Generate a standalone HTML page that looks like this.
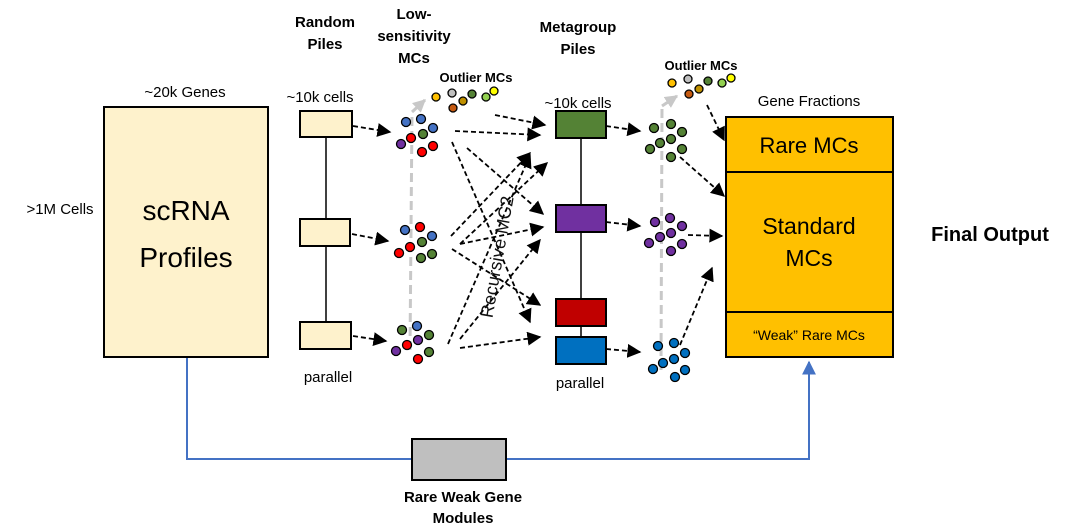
<!DOCTYPE html>
<html><head><meta charset="utf-8"><style>
html,body{margin:0;padding:0;background:#fff}
svg{display:block}
text{font-family:"Liberation Sans",Arial,sans-serif}
</style></head><body>
<svg width="1080" height="531" viewBox="0 0 1080 531" xmlns="http://www.w3.org/2000/svg">
<defs>
<marker id="ahk" viewBox="0 0 10 10" refX="9" refY="5" markerWidth="14" markerHeight="14" orient="auto" markerUnits="userSpaceOnUse"><path d="M0,0 L10,5 L0,10 z" fill="#000"/></marker>
<marker id="ahg" viewBox="0 0 10 10" refX="9" refY="5" markerWidth="13" markerHeight="13" orient="auto" markerUnits="userSpaceOnUse"><path d="M0,0 L10,5 L0,10 z" fill="#c8c8c8"/></marker>
<marker id="ahb" viewBox="0 0 10 10" refX="9" refY="5" markerWidth="14" markerHeight="14" orient="auto" markerUnits="userSpaceOnUse"><path d="M0,0 L10,5 L0,10 z" fill="#4472c4"/></marker>
</defs>

<polyline points="187,357 187,459 809,459 809,362" fill="none" stroke="#4472c4" stroke-width="2" marker-end="url(#ahb)"/>
<rect x="412" y="439" width="94" height="41" fill="#bfbfbf" stroke="#000" stroke-width="2"/>
<text x="463" y="502" font-size="15" font-weight="bold" text-anchor="middle">Rare Weak Gene</text>
<text x="463" y="523" font-size="15" font-weight="bold" text-anchor="middle">Modules</text>

<rect x="104" y="107" width="164" height="250" fill="#fef2cc" stroke="#000" stroke-width="2"/>
<text x="186" y="220" font-size="28" text-anchor="middle">scRNA</text>
<text x="186" y="267" font-size="28" text-anchor="middle">Profiles</text>
<text x="185" y="97" font-size="15" text-anchor="middle">~20k Genes</text>
<text x="60" y="214" font-size="15" text-anchor="middle">&gt;1M Cells</text>

<text x="325" y="27" font-size="15" font-weight="bold" text-anchor="middle">Random</text>
<text x="325" y="49" font-size="15" font-weight="bold" text-anchor="middle">Piles</text>
<text x="414" y="19" font-size="15" font-weight="bold" text-anchor="middle">Low-</text>
<text x="414" y="41" font-size="15" font-weight="bold" text-anchor="middle">sensitivity</text>
<text x="414" y="63" font-size="15" font-weight="bold" text-anchor="middle">MCs</text>
<line x1="326" y1="137" x2="326" y2="322" stroke="#000" stroke-width="1.5"/>
<rect x="300" y="111" width="52" height="26" fill="#fef2cc" stroke="#000" stroke-width="2"/>
<rect x="300" y="219" width="50" height="27" fill="#fef2cc" stroke="#000" stroke-width="2"/>
<rect x="300" y="322" width="51" height="27" fill="#fef2cc" stroke="#000" stroke-width="2"/>
<text x="320" y="102" font-size="15" text-anchor="middle">~10k cells</text>
<text x="328" y="382" font-size="15" text-anchor="middle">parallel</text>

<text x="578" y="32" font-size="15" font-weight="bold" text-anchor="middle">Metagroup</text>
<text x="578" y="54" font-size="15" font-weight="bold" text-anchor="middle">Piles</text>
<text x="578" y="108" font-size="15" text-anchor="middle">~10k cells</text>
<text x="580" y="388" font-size="15" text-anchor="middle">parallel</text>
<line x1="581" y1="138" x2="581" y2="336" stroke="#000" stroke-width="1.5"/>
<rect x="556" y="111" width="50" height="27" fill="#548235" stroke="#000" stroke-width="2"/>
<rect x="556" y="205" width="50" height="27" fill="#7030a0" stroke="#000" stroke-width="2"/>
<rect x="556" y="299" width="50" height="27" fill="#c00000" stroke="#000" stroke-width="2"/>
<rect x="556" y="337" width="50" height="27" fill="#0070c0" stroke="#000" stroke-width="2"/>

<line x1="410" y1="350" x2="412" y2="112" stroke="#c8c8c8" stroke-width="3" stroke-dasharray="9,5"/>
<line x1="412" y1="112" x2="425" y2="100" stroke="#c8c8c8" stroke-width="3" marker-end="url(#ahg)"/>
<line x1="661" y1="370" x2="662" y2="106" stroke="#c8c8c8" stroke-width="3" stroke-dasharray="9,5"/>
<line x1="662" y1="106" x2="677" y2="96" stroke="#c8c8c8" stroke-width="3" marker-end="url(#ahg)"/>

<g stroke="#000" stroke-width="1.8" stroke-dasharray="5,3" fill="none" marker-end="url(#ahk)">
<line x1="353" y1="126" x2="390" y2="132"/>
<line x1="352" y1="234" x2="388" y2="241"/>
<line x1="353" y1="336" x2="386" y2="341"/>
<line x1="495" y1="115" x2="545" y2="125"/>
<line x1="455" y1="131" x2="540" y2="135"/>
<line x1="467" y1="148" x2="543" y2="214"/>
<line x1="452" y1="142" x2="530" y2="322"/>
<line x1="451" y1="236" x2="530" y2="153"/>
<line x1="460" y1="244" x2="547" y2="163"/>
<line x1="460" y1="244" x2="543" y2="227"/>
<line x1="452" y1="249" x2="540" y2="305"/>
<line x1="448" y1="344" x2="530" y2="155"/>
<line x1="460" y1="339" x2="540" y2="240"/>
<line x1="460" y1="348" x2="540" y2="337"/>
<line x1="606" y1="126" x2="640" y2="131"/>
<line x1="606" y1="222" x2="640" y2="226"/>
<line x1="606" y1="349" x2="640" y2="352"/>
<line x1="707" y1="105" x2="724" y2="140"/>
<line x1="680" y1="157" x2="724" y2="196"/>
<line x1="688" y1="235" x2="722" y2="236"/>
<line x1="680" y1="345" x2="712" y2="268"/>
</g>

<text x="0" y="0" font-size="18" transform="translate(503,258) rotate(-80)" text-anchor="middle" fill="#111">Recursive MC2</text>

<g stroke="#000" stroke-width="1.3">
<circle cx="406" cy="122" r="4.5" fill="#4472c4"/><circle cx="421" cy="119" r="4.5" fill="#4472c4"/><circle cx="433" cy="128" r="4.5" fill="#4472c4"/><circle cx="423" cy="134" r="4.5" fill="#548235"/><circle cx="411" cy="138" r="4.5" fill="#ff0000"/><circle cx="401" cy="144" r="4.5" fill="#7030a0"/><circle cx="433" cy="146" r="4.5" fill="#ff0000"/><circle cx="422" cy="152" r="4.5" fill="#ff0000"/>
<circle cx="405" cy="230" r="4.5" fill="#4472c4"/><circle cx="420" cy="227" r="4.5" fill="#ff0000"/><circle cx="432" cy="236" r="4.5" fill="#4472c4"/><circle cx="422" cy="242" r="4.5" fill="#548235"/><circle cx="410" cy="247" r="4.5" fill="#ff0000"/><circle cx="399" cy="253" r="4.5" fill="#ff0000"/><circle cx="432" cy="254" r="4.5" fill="#548235"/><circle cx="421" cy="258" r="4.5" fill="#548235"/>
<circle cx="402" cy="330" r="4.5" fill="#548235"/><circle cx="417" cy="326" r="4.5" fill="#4472c4"/><circle cx="429" cy="335" r="4.5" fill="#548235"/><circle cx="418" cy="340" r="4.5" fill="#7030a0"/><circle cx="407" cy="345" r="4.5" fill="#ff0000"/><circle cx="396" cy="351" r="4.5" fill="#7030a0"/><circle cx="429" cy="352" r="4.5" fill="#548235"/><circle cx="418" cy="359" r="4.5" fill="#ff0000"/>
<circle cx="436" cy="97" r="4" fill="#ffc000"/><circle cx="452" cy="93" r="4" fill="#bfbfbf"/><circle cx="453" cy="108" r="4" fill="#c55a11"/><circle cx="463" cy="101" r="4" fill="#bf9000"/><circle cx="472" cy="94" r="4" fill="#548235"/><circle cx="486" cy="97" r="4" fill="#92d050"/><circle cx="494" cy="91" r="4" fill="#ffff00"/>
<circle cx="654" cy="128" r="4.5" fill="#548235"/><circle cx="671" cy="124" r="4.5" fill="#548235"/><circle cx="682" cy="132" r="4.5" fill="#548235"/><circle cx="671" cy="139" r="4.5" fill="#548235"/><circle cx="660" cy="143" r="4.5" fill="#548235"/><circle cx="650" cy="149" r="4.5" fill="#548235"/><circle cx="682" cy="149" r="4.5" fill="#548235"/><circle cx="671" cy="157" r="4.5" fill="#548235"/>
<circle cx="655" cy="222" r="4.5" fill="#7030a0"/><circle cx="670" cy="218" r="4.5" fill="#7030a0"/><circle cx="682" cy="226" r="4.5" fill="#7030a0"/><circle cx="671" cy="233" r="4.5" fill="#7030a0"/><circle cx="660" cy="237" r="4.5" fill="#7030a0"/><circle cx="649" cy="243" r="4.5" fill="#7030a0"/><circle cx="682" cy="244" r="4.5" fill="#7030a0"/><circle cx="671" cy="251" r="4.5" fill="#7030a0"/>
<circle cx="658" cy="346" r="4.5" fill="#0070c0"/><circle cx="674" cy="343" r="4.5" fill="#0070c0"/><circle cx="685" cy="353" r="4.5" fill="#0070c0"/><circle cx="674" cy="359" r="4.5" fill="#0070c0"/><circle cx="663" cy="363" r="4.5" fill="#0070c0"/><circle cx="653" cy="369" r="4.5" fill="#0070c0"/><circle cx="685" cy="370" r="4.5" fill="#0070c0"/><circle cx="675" cy="377" r="4.5" fill="#0070c0"/>
<circle cx="672" cy="83" r="4" fill="#ffc000"/><circle cx="688" cy="79" r="4" fill="#bfbfbf"/><circle cx="689" cy="94" r="4" fill="#c55a11"/><circle cx="699" cy="89" r="4" fill="#bf9000"/><circle cx="708" cy="81" r="4" fill="#548235"/><circle cx="722" cy="83" r="4" fill="#92d050"/><circle cx="731" cy="78" r="4" fill="#ffff00"/>
</g>
<text x="476" y="82" font-size="13" font-weight="bold" text-anchor="middle">Outlier MCs</text>
<text x="701" y="70" font-size="13" font-weight="bold" text-anchor="middle">Outlier MCs</text>

<text x="809" y="106" font-size="15" text-anchor="middle">Gene Fractions</text>
<rect x="726" y="117" width="167" height="240" fill="#ffc000" stroke="#000" stroke-width="2"/>
<line x1="726" y1="172" x2="893" y2="172" stroke="#000" stroke-width="2"/>
<line x1="726" y1="312" x2="893" y2="312" stroke="#000" stroke-width="2"/>
<text x="809" y="153" font-size="22" text-anchor="middle">Rare MCs</text>
<text x="809" y="234" font-size="23" text-anchor="middle">Standard</text>
<text x="809" y="266" font-size="23" text-anchor="middle">MCs</text>
<text x="809" y="340" font-size="14" text-anchor="middle">“Weak” Rare MCs</text>
<text x="990" y="241" font-size="20" font-weight="bold" text-anchor="middle">Final Output</text>
</svg>
</body></html>
